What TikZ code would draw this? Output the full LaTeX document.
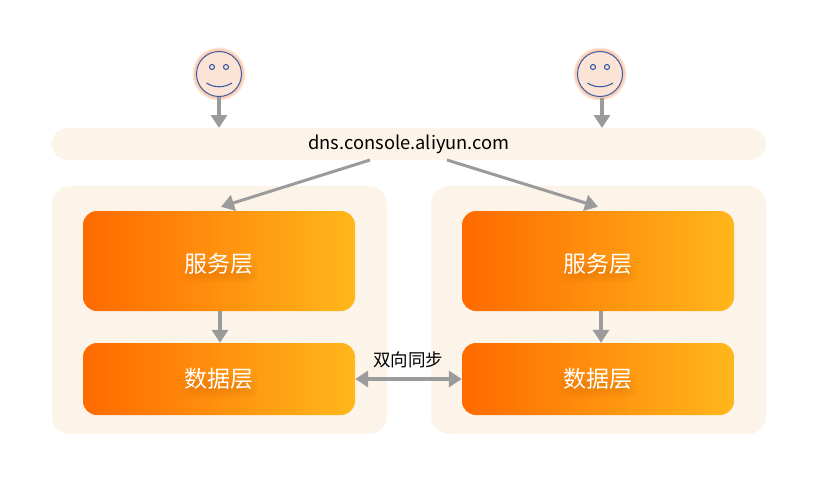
\documentclass[tikz,border=0pt]{standalone}
\usepackage{fontspec}
\setmainfont{Noto Sans CJK SC}
\usetikzlibrary{arrows.meta}
\definecolor{kpanel}{HTML}{FCF4E9}
\definecolor{karrow}{HTML}{9B9B9B}
\definecolor{kleft}{HTML}{FF6A00}
\definecolor{kright}{HTML}{FFB71B}
\definecolor{kface}{HTML}{FBE3D6}
\definecolor{khalo}{HTML}{FBCDB2}
\definecolor{khaloout}{HTML}{FDE6D8}
\definecolor{kline}{HTML}{3A5CA6}
\definecolor{kglow}{HTML}{B05000}
\tikzset{
panel/.style={fill=kpanel,rounded corners=18,minimum width=335,minimum height=248,inner sep=0},
bar/.style={fill=kpanel,rounded corners=16,minimum width=714,minimum height=32,inner sep=0,font=\fontsize{18.3}{22}\selectfont},
layer/.style={left color=kleft,right color=kright,rounded corners=14,minimum width=272,inner sep=0},
layertxt/.style={text=white,inner sep=0,font=\fontsize{23}{27}\selectfont},
face/.style={circle,fill=kface,draw=kline,line width=1,minimum size=45,inner sep=0,preaction={draw=khaloout,line width=8},preaction={draw=khalo,line width=5}},
link/.style={draw=karrow,line width=3.5,-{Triangle[width=16,length=13]}},
biglink/.style={link,{Triangle[width=16,length=13]}-{Triangle[width=16,length=13]}},
glow/.style={kglow,opacity=0.035},
}
\begin{document}
\begin{tikzpicture}[x=1pt,y=-1pt]
\useasboundingbox(0,0) rectangle (828,480);
\pgfmathsetmacro{\keye}{7}
\foreach \kx/\kn/\kd in {0/l/1,379/r/3}{
\node[panel](panel\kn) at (219.5+\kx,310){};
\node[layer,minimum height=100](svc\kn) at (219+\kx,261){};
\node[layer,minimum height=72](data\kn) at (219+\kx,379){};
% soft shade under the two labels
\foreach \kg in {0,2,4,6,8}{
\fill[glow,rounded corners=6](219+\kx-30-\kg,268-\kg) rectangle (219+\kx+30+\kg,275+\kg);
\fill[glow,rounded corners=6](219+\kx-30-\kg,383-\kg) rectangle (219+\kx+30+\kg,390+\kg);
}
\node[layertxt](svctxt\kn) at (219+\kx,264){服务层};
\node[layertxt](datatxt\kn) at (219+\kx,379){数据层};
\draw[link]([xshift=\kd]svc\kn.south)--([xshift=\kd]data\kn.north);
}
\node[bar](dns) at (409,144){dns.console.aliyun.com};
\foreach \kx/\kn in {219/l,600/r}{
\node[face](user\kn) at (\kx,74){};
\draw[kline,line width=1.1](\kx-\keye,67) circle (2.5);
\draw[kline,line width=1.1](\kx+\keye,67) circle (2.5);
\draw[kline,line width=1.1](\kx-12.5,83) .. controls (\kx-5,88) and (\kx+5,88) .. (\kx+13,83);
}
\coordinate (dnsl) at (370,160);
\coordinate (dnsr) at (447,160);
\coordinate (userrb) at (602,98);
\coordinate (dnsrt) at (602,128);
\coordinate (dnslt) at (219,128);
\draw[link](userl)--(dnslt);
\draw[link](userrb)--(dnsrt);
\draw[link,line width=3](dnsl)--([shift={(2,-4)}]svcl.north);
\draw[link,line width=3](dnsr)--([shift={(0,-4)}]svcr.north);
\draw[biglink](datal)--(datar);
\node[font=\fontsize{17.5}{21}\selectfont,inner sep=0](sync) at (408,360){双向同步};
\end{tikzpicture}
\end{document}
